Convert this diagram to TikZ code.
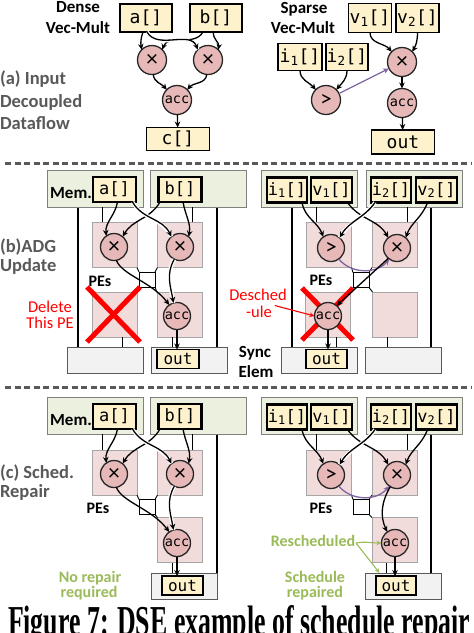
\documentclass[tikz,border=0pt]{standalone}
\usepackage{graphicx}
\usepackage{fontspec}
\setmainfont{Carlito}
\setmonofont{DejaVu Sans Mono}
\newfontfamily\capfont{Liberation Serif}
\usetikzlibrary{arrows.meta}
\definecolor{arrfill}{HTML}{FDF2CC}
\definecolor{opfill}{HTML}{E6B9B8}
\definecolor{opdraw}{HTML}{262626}
\definecolor{pefill}{HTML}{F2DCDB}
\definecolor{pedraw}{HTML}{A6A6A6}
\definecolor{memfill}{HTML}{EBF1DE}
\definecolor{memdraw}{HTML}{7F7F7F}
\definecolor{syncfill}{HTML}{F2F2F2}
\definecolor{syncdraw}{HTML}{595959}
\definecolor{lblgray}{HTML}{595959}
\definecolor{pur}{HTML}{8064A2}
\definecolor{grn}{HTML}{9BBB59}
\definecolor{xred}{HTML}{FF0000}
\tikzset{
 every node/.style={inner sep=0pt, outer sep=0pt},
 arrA/.style={draw=black, fill=arrfill, line width=1.3pt, font=\fontsize{18}{18}\selectfont\ttfamily, minimum height=28pt},
 arrM/.style={draw=black, fill=arrfill, line width=2.4pt, font=\fontsize{17}{17}\selectfont\ttfamily, minimum height=25pt, minimum width=43pt},
 op/.style={circle, draw=opdraw, fill=opfill, line width=1.3pt, minimum size=29pt, font=\fontsize{23}{23}\selectfont},
 opacc/.style={op, font=\fontsize{13.5}{13.5}\selectfont\ttfamily},
 pebox/.style={draw=pedraw, fill=pefill, line width=0.8pt, minimum width=45pt, minimum height=45pt},
 membox/.style={draw=memdraw, fill=memfill, line width=0.8pt, minimum width=96pt, minimum height=37pt},
 syncbox/.style={draw=syncdraw, fill=syncfill, line width=1pt, minimum width=76pt, minimum height=26pt},
 outbox/.style={draw=black, fill=arrfill, line width=1.3pt, font=\fontsize{16}{16}\selectfont\ttfamily, minimum width=42pt, minimum height=19pt},
 swbox/.style={draw=black, fill=white, line width=0.8pt, minimum width=16pt, minimum height=15pt},
 edg/.style={-{Stealth[length=6pt,width=5.5pt]}, line width=1.3pt, black},
 xedg/.style={edg, preaction={draw=white, line width=3.8pt, arrows=-}},
 pedg/.style={edg, pur},
 netline/.style={line width=1.2pt, black},
 thinline/.style={line width=0.9pt, black},
 redx/.style={xred, line width=5pt},
 seclbl/.style={font=\fontsize{18.5}{18.5}\selectfont\bfseries, text=lblgray, anchor=base west},
 toplbl/.style={font=\fontsize{17}{17}\selectfont\bfseries, anchor=base},
 blbl/.style={font=\fontsize{16}{16}\selectfont\bfseries, anchor=base},
 redlbl/.style={font=\fontsize{16.5}{16.5}\selectfont, text=xred, anchor=base},
 grnlbl/.style={font=\fontsize{16}{16}\selectfont\bfseries, text=grn, anchor=base},
 grnarr/.style={-{Stealth[length=5pt,width=4.5pt]}, grn, line width=1.1pt},
 redarr/.style={-{Stealth[length=5pt,width=4.5pt]}, xred, line width=1.1pt},
 sepline/.style={line width=3pt, dash pattern=on 6pt off 3.5pt, lblgray},
}
\begin{document}
\begin{tikzpicture}[x=1pt,y=-1pt]
\useasboundingbox (0,0) rectangle (474,633);
\fill[white] (0,0) rectangle (474,633);

% ================= (a) dense =================
\node[toplbl] (tDense) at (78,12.5) {Dense};
\node[toplbl] (tDVM) at (78,33) {Vec-Mult};
\node[seclbl] (la1) at (0,84) {(a) Input};
\node[seclbl] (la2) at (0,107) {Decoupled};
\node[seclbl] (la3) at (0,129) {Dataflow};
\node[arrA, minimum width=52pt] (aA) at (146,18) {a[]};
\node[arrA, minimum width=52pt] (bA) at (216,18) {b[]};
\node[op] (mAL) at (152,60) {×};
\node[op] (mAR) at (208,60) {×};
\node[opacc] (accA) at (177,100) {acc};
\node[arrA, minimum width=63pt, minimum height=23pt] (cA) at (178,139) {c[]};
\draw[edg] ([xshift=-3pt]aA.south) to[out=-110,in=100] (mAL.135);
\draw[edg] ([xshift=-13pt]bA.south) to[out=-120,in=70] (mAL.45);
\draw[xedg] ([xshift=1pt]aA.south) to[out=-60,in=110] (mAR.135);
\draw[edg] ([xshift=-3pt]bA.south) to[out=-90,in=80] (mAR.45);
\draw[edg] (mAL.-85) to[out=-85,in=130] (accA.135);
\draw[edg] (mAR.-95) to[out=-95,in=50] (accA.45);
\draw[edg] (accA) -- (cA);

% ================= (a) sparse =================
\node[toplbl] (tSparse) at (304,13) {Sparse};
\node[toplbl] (tSVM) at (303,33) {Vec-Mult};
\node[arrA, minimum width=43pt, minimum height=29pt] (v1A) at (370,18) {v\textsubscript{1}[]};
\node[arrA, minimum width=43pt, minimum height=29pt] (v2A) at (417.5,18) {v\textsubscript{2}[]};
\node[arrA, minimum width=44pt, minimum height=27pt] (i1A) at (300,57) {i\textsubscript{1}[]};
\node[arrA, minimum width=42pt, minimum height=27pt] (i2A) at (347,57) {i\textsubscript{2}[]};
\node[op] (mB) at (402,62) {×};
\node[op] (gtA) at (326,100) {>};
\node[opacc] (accB) at (402,103) {acc};
\node[arrA, minimum width=63pt, minimum height=24pt] (outA) at (403,142) {out};
\draw[edg] (v1A.south) to[out=-90,in=130] (mB.135);
\draw[edg] (v2A.south) to[out=-90,in=60] (mB.45);
\draw[edg] (i1A.south) to[out=-90,in=130] (gtA.135);
\draw[edg] (i2A.south) to[out=-90,in=50] (gtA.45);
\draw[pedg] (gtA) -- (mB);
\draw[edg] (mB) -- (accB);
\draw[edg] (accB) -- (outA);

% separators
\coordinate (s1a) at (5,163); \coordinate (s1b) at (472,163);
\draw[sepline] (s1a) -- (s1b);
\coordinate (s2a) at (5,387); \coordinate (s2b) at (472,387);
\draw[sepline] (s2a) -- (s2b);

% ================= (b) left =================
\node[seclbl] (lb1) at (0,252) {(b)ADG};
\node[seclbl] (lb2) at (0,271) {Update};
\draw[netline] (78,207) -- (78,347);
\draw[netline] (217,207) -- (217,347);
\node[membox] (memB1) at (95,188.5) {};
\node[membox] (memB2) at (198,188.5) {};
\node[blbl, font=\fontsize{17}{17}\selectfont\bfseries] (memTB) at (71,198) {Mem.};
\node[arrM] (aB) at (114.5,189.5) {a[]};
\node[arrM] (bB) at (180,189.5) {b[]};
\draw[thinline] (102,207) -- (102,223);
\draw[thinline] (192,207) -- (192,223);
\node[pebox] (peB1) at (114.5,245) {};
\node[pebox] (peB2) at (180,245) {};
\node[pebox] (peB3) at (114.5,315) {};
\node[pebox] (peB4) at (179.5,315) {};
\node[swbox] (swB) at (147,279.5) {};
\draw[thinline] (swB.north west) -- (peB1.south east);
\draw[thinline] (swB.north east) -- (peB2.south west);
\draw[thinline] (swB.south west) -- (peB3.north east);
\draw[thinline] (swB.south east) -- (peB4.north west);
\draw[thinline] (122,337) -- (122,347);
\draw[thinline] (172,337) -- (172,347);
\node[syncbox] (syB1) at (105,360) {};
\node[syncbox] (syB2) at (189,360) {};
\node[outbox] (outB1) at (178,359) {out};
\draw[redx] (87,287) -- (140,342);
\draw[redx] (140,287) -- (87,342);
\node[op, minimum size=27pt] (mBL) at (114,247) {×};
\node[op, minimum size=27pt] (mBR) at (180,247) {×};
\node[opacc, minimum size=27pt] (accBL) at (177,316) {acc};
\node[blbl] (pesB1) at (100,286) {PEs};
\node[redlbl] (del1) at (50,312) {Delete};
\node[redlbl] (del2) at (50,328) {This PE};
\draw[edg] ([xshift=3pt]aB.south) to[out=-100,in=95] (mBL.125);
\draw[edg] ([xshift=-20pt]bB.south) to[out=-120,in=60] (mBL.50);
\draw[xedg] ([xshift=18pt]aB.south) to[out=-60,in=115] (mBR.130);
\draw[edg] ([xshift=3pt]bB.south) to[out=-80,in=80] (mBR.50);
\draw[edg] (mBL.-80) .. controls (122,275) and (152,282) .. (accBL.125);
\draw[xedg] (mBR.-115) to[out=-120,in=100] (accBL.105);
\draw[edg] (accBL.south) -- (accBL.south |- outB1.north);

% ================= (b) right =================
\draw[netline] (292,207) -- (292,347);
\draw[netline] (431,207) -- (431,347);
\node[membox] (memB3) at (309,188.5) {};
\node[membox] (memB4) at (414,188.5) {};
\node[arrM, minimum width=40pt] (i1B) at (287,190) {i\textsubscript{1}[]};
\node[arrM, minimum width=41pt] (v1B) at (331.5,190) {v\textsubscript{1}[]};
\node[arrM, minimum width=40pt] (i2B) at (391,190) {i\textsubscript{2}[]};
\node[arrM, minimum width=41pt] (v2B) at (436.5,190) {v\textsubscript{2}[]};
\draw[thinline] (316,207) -- (316,223);
\draw[thinline] (407,207) -- (407,223);
\node[pebox] (peB5) at (329,245) {};
\node[pebox] (peB6) at (394.5,245) {};
\node[pebox] (peB7) at (328,314.5) {};
\node[pebox] (peB8) at (395,314.5) {};
\node[swbox] (swB2) at (361,280) {};
\draw[thinline] (swB2.north west) -- (peB5.south east);
\draw[thinline] (swB2.north east) -- (peB6.south west);
\draw[thinline] (swB2.south west) -- (peB7.north east);
\draw[thinline] (swB2.south east) -- (peB8.north west);
\draw[thinline] (336,337) -- (336,347);
\draw[thinline] (387,337) -- (387,347);
\node[syncbox] (syB3) at (319.5,360) {};
\node[syncbox] (syB4) at (403.5,360) {};
\node[outbox, minimum width=41pt] (outB2) at (326.5,359) {out};
\draw[redx] (302,288) -- (353,340);
\draw[redx] (353,288) -- (302,340);
\node[op, minimum size=27pt] (gtB) at (331,248) {>};
\node[op, minimum size=27pt] (mBr) at (397,248) {×};
\node[opacc, minimum size=27pt] (accBR) at (328,316) {acc};
\node[blbl] (pesB2) at (321,285) {PEs};
\node[blbl, font=\fontsize{17}{17}\selectfont\bfseries] (sync1) at (255,357) {Sync};
\node[blbl, font=\fontsize{17}{17}\selectfont\bfseries] (sync2) at (256,377) {Elem};
\node[redlbl] (des1) at (258,300) {Desched};
\node[redlbl] (des2) at (259,317) {-ule};
\draw[redarr] ([xshift=3pt]des2.north east) -- (accBR.west);
\draw[edg] ([xshift=15pt]i1B.south) to[out=-80,in=110] (gtB.125);
\draw[edg] ([xshift=16pt]v1B.south) to[out=-55,in=120] (mBr.130);
\draw[xedg] ([xshift=-16pt]i2B.south) to[out=-125,in=60] (gtB.50);
\draw[edg] ([xshift=-9pt]v2B.south) to[out=-110,in=70] (mBr.50);
\draw[pedg] (gtB.-55) to[out=-50,in=-130] (mBr.-125);
\draw[edg] (mBr.-130) -- (accBR.50);
\draw[edg] (accBR.south) -- (accBR.south |- outB2.north);

% ================= (c) left =================
\node[seclbl] (lc1) at (0,478) {(c) Sched.};
\node[seclbl] (lc2) at (0,497.5) {Repair};
\draw[netline] (217,434) -- (217,573);
\node[membox] (memC1) at (95,415.5) {};
\node[membox] (memC2) at (198,415.5) {};
\node[blbl, font=\fontsize{17}{17}\selectfont\bfseries] (memTC) at (71,425) {Mem.};
\node[arrM] (aC) at (114.5,416.5) {a[]};
\node[arrM] (bC) at (180,416.5) {b[]};
\draw[thinline] (102,434) -- (102,450);
\draw[thinline] (192,434) -- (192,450);
\node[pebox] (peC1) at (114.5,472.5) {};
\node[pebox] (peC2) at (180,472.5) {};
\node[pebox] (peC4) at (180,540) {};
\node[swbox] (swC) at (147,507) {};
\draw[thinline] (swC.north west) -- (peC1.south east);
\draw[thinline] (swC.north east) -- (peC2.south west);
\draw[thinline] (swC.south east) -- (peC4.north west);
\draw[thinline] (172,563) -- (172,573);
\node[syncbox, minimum width=66pt] (syC1) at (184,586) {};
\node[outbox, minimum width=41pt] (outC1) at (182.5,585.5) {out};
\node[op, minimum size=27pt] (mCL) at (114,474) {×};
\node[op, minimum size=27pt] (mCR) at (180,474) {×};
\node[opacc, minimum size=27pt] (accCL) at (177,543) {acc};
\node[blbl] (pesC1) at (98,513) {PEs};
\node[grnlbl] (nr1) at (90,582) {No repair};
\node[grnlbl] (nr2) at (89,597) {required};
\draw[edg] ([xshift=3pt]aC.south) to[out=-100,in=95] (mCL.125);
\draw[edg] ([xshift=-20pt]bC.south) to[out=-120,in=60] (mCL.50);
\draw[xedg] ([xshift=18pt]aC.south) to[out=-60,in=115] (mCR.130);
\draw[edg] ([xshift=3pt]bC.south) to[out=-80,in=80] (mCR.50);
\draw[edg] (mCL.-80) .. controls (122,502) and (152,509) .. (accCL.125);
\draw[xedg] (mCR.-115) to[out=-120,in=100] (accCL.105);
\draw[edg] (accCL.south) -- (accCL.south |- outC1.north);

% ================= (c) right =================
\draw[netline] (431,434) -- (431,573);
\node[membox] (memC3) at (309,415.5) {};
\node[membox] (memC4) at (414,415.5) {};
\node[arrM, minimum width=40pt] (i1C) at (287,417) {i\textsubscript{1}[]};
\node[arrM, minimum width=41pt] (v1C) at (331.5,417) {v\textsubscript{1}[]};
\node[arrM, minimum width=40pt] (i2C) at (391,417) {i\textsubscript{2}[]};
\node[arrM, minimum width=41pt] (v2C) at (436.5,417) {v\textsubscript{2}[]};
\draw[thinline] (316,434) -- (316,450);
\draw[thinline] (407,434) -- (407,450);
\node[pebox] (peC5) at (329,472.5) {};
\node[pebox] (peC6) at (394.5,472.5) {};
\node[pebox] (peC8) at (394.5,540) {};
\node[swbox] (swC2) at (361,507) {};
\draw[thinline] (swC2.north west) -- (peC5.south east);
\draw[thinline] (swC2.north east) -- (peC6.south west);
\draw[thinline] (swC2.south east) -- (peC8.north west);
\draw[thinline] (386,563) -- (386,573);
\node[syncbox] (syC2) at (403.5,586) {};
\node[outbox, minimum width=40pt] (outC2) at (396,585.5) {out};
\node[op, minimum size=27pt] (gtC) at (331,475) {>};
\node[op, minimum size=27pt] (mCr) at (397,475) {×};
\node[opacc, minimum size=27pt] (accCR) at (395,543) {acc};
\node[blbl] (pesC2) at (321,513) {PEs};
\node[grnlbl] (res) at (313,546) {Rescheduled};
\node[grnlbl] (sr1) at (315,582) {Schedule};
\node[grnlbl] (sr2) at (315,597) {repaired};
\coordinate (resS) at (356,543);
\draw[grnarr] (resS) to[out=10,in=180] (accCR.west);
\draw[grnarr] (resS) -- ([xshift=-24pt]syC2.north);
\draw[edg] ([xshift=15pt]i1C.south) to[out=-80,in=110] (gtC.125);
\draw[edg] ([xshift=16pt]v1C.south) to[out=-55,in=120] (mCr.130);
\draw[xedg] ([xshift=-16pt]i2C.south) to[out=-125,in=60] (gtC.50);
\draw[edg] ([xshift=-9pt]v2C.south) to[out=-110,in=70] (mCr.50);
\draw[pedg] (gtC.-55) to[out=-50,in=-130] (mCr.-125);
\draw[edg] (mCr.-120) to[out=-120,in=115] (accCR.125);
\draw[edg] (accCR.south) -- (accCR.south |- outC2.north);

% caption
\node[anchor=north west] (cap) at (8,605) {\resizebox{462pt}{30pt}{\capfont\bfseries Figure 7: DSE example of schedule repair}};
\end{tikzpicture}
\end{document}
